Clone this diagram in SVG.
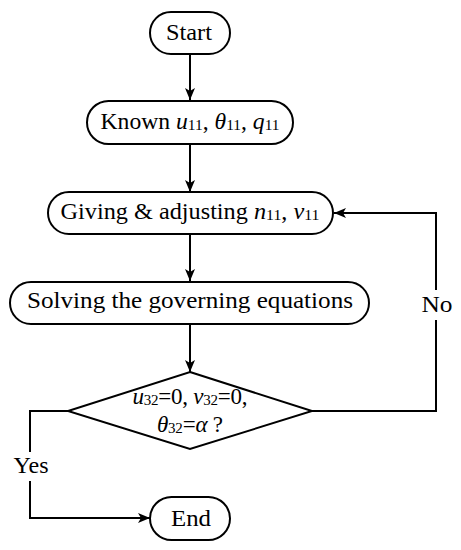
<svg xmlns="http://www.w3.org/2000/svg" width="461" height="550" viewBox="0 0 461 550">
<defs>
<marker id="ah" markerUnits="userSpaceOnUse" markerWidth="13" markerHeight="11" refX="12" refY="5" orient="auto">
<path d="M0,0 L12,5 L0,10 L3,5 z" fill="#000"/>
</marker>
<style>
.box{fill:#fff;stroke:#000;stroke-width:2}
.ln{fill:none;stroke:#000;stroke-width:2}
text{font-family:"Liberation Serif","DejaVu Serif",serif;font-size:23px;fill:#000;text-anchor:middle}
.i{font-style:italic}
.s{font-size:15px}
</style>
</defs>
<rect width="461" height="550" fill="#fff"/>
<g id="connectors">
<path class="ln" d="M190,54 V100" marker-end="url(#ah)"/>
<path class="ln" d="M190,144 V192" marker-end="url(#ah)"/>
<path class="ln" d="M190,234 V281" marker-end="url(#ah)"/>
<path class="ln" d="M190,324 V372" marker-end="url(#ah)"/>
<path class="ln" d="M312,411 H436 V320 M436,290 V213 H334" marker-end="url(#ah)"/>
<path class="ln" d="M68,411 H30 V452 M30,481 V518 H150" marker-end="url(#ah)"/>
<text x="437" y="312" textLength="31" lengthAdjust="spacingAndGlyphs">No</text>
<text x="31" y="473" textLength="35" lengthAdjust="spacingAndGlyphs">Yes</text>
</g>
<g id="start">
<rect class="box" x="150" y="12" width="80" height="42" rx="21"/>
<text x="189" y="40" textLength="46" lengthAdjust="spacingAndGlyphs">Start</text>
</g>
<g id="known">
<rect class="box" x="87" y="101" width="206" height="43" rx="21.5"/>
<text x="190" y="129" textLength="179" lengthAdjust="spacingAndGlyphs">Known <tspan class="i">u</tspan><tspan class="s" dy="1">11</tspan><tspan dy="-1">, </tspan><tspan class="i">θ</tspan><tspan class="s" dy="1">11</tspan><tspan dy="-1">, </tspan><tspan class="i">q</tspan><tspan class="s" dy="1">11</tspan></text>
</g>
<g id="giving">
<rect class="box" x="48" y="192" width="285" height="42" rx="21"/>
<text x="190" y="219" textLength="259" lengthAdjust="spacingAndGlyphs">Giving &amp; adjusting <tspan class="i">n</tspan><tspan class="s" dy="1">11</tspan><tspan dy="-1">, </tspan><tspan class="i">v</tspan><tspan class="s" dy="1">11</tspan></text>
</g>
<g id="solving">
<rect class="box" x="10" y="282" width="359" height="42" rx="21"/>
<text x="190" y="308" textLength="326" lengthAdjust="spacingAndGlyphs">Solving the governing equations</text>
</g>
<g id="decision">
<polygon class="box" points="190,372 312,411 190,449 68,411"/>
<text x="190" y="404" textLength="115" lengthAdjust="spacing"><tspan class="i">u</tspan><tspan class="s" dy="1">32</tspan><tspan dy="-1">=0, </tspan><tspan class="i">v</tspan><tspan class="s" dy="1">32</tspan><tspan dy="-1">=0,</tspan></text>
<text x="190" y="432" textLength="66" lengthAdjust="spacing"><tspan class="i">θ</tspan><tspan class="s" dy="1">32</tspan><tspan dy="-1">=</tspan><tspan class="i">α</tspan> ?</text>
</g>
<g id="end">
<rect class="box" x="150" y="497" width="80" height="43" rx="21.5"/>
<text x="191" y="526" textLength="40" lengthAdjust="spacingAndGlyphs">End</text>
</g>
</svg>
